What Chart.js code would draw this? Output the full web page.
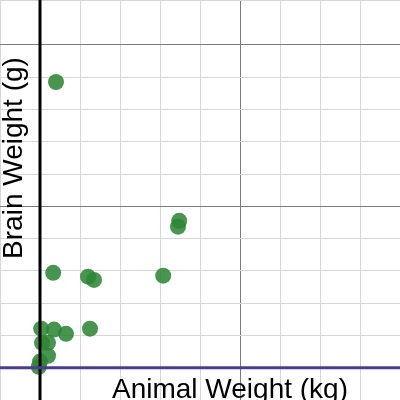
<!DOCTYPE html>
<html>
<head>
<style>html,body{margin:0;padding:0;background:#fff;overflow:hidden}#wrap{position:absolute;left:-8px;top:-8px;width:416px;height:416px}</style>
<script src="https://cdn.jsdelivr.net/npm/chart.js@4"></script>
</head>
<body>
<div id="wrap"><canvas id="c"></canvas></div>
<script>
const animalWeight = [0.4, 3.48, 3.45, 0.33, 1.2, 1.35, 3.08, 0.03, 0.35, 0.65, 1.25, 0.05, 0.2, 0.2, 0.0, -0.03];
const brainWeight = [8.85, 4.55, 4.37, 2.94, 2.82, 2.72, 2.85, 1.21, 1.18, 1.05, 1.21, 0.77, 0.77, 0.37, 0.19, 0.03];
const xTitle = 'Animal Weight (kg)';
const yTitle = 'Brain Weight (g)';

const gridColor = ctx => (ctx.tick && Math.abs(ctx.tick.value % 5) < 1e-6) ? '#7a7a7a' : '#d6d6d6';

const overlay = {
  id: 'overlay',
  afterDraw(chart) {
    const {ctx, scales: {x, y}} = chart;
    ctx.save();
    ctx.lineWidth = 3;
    ctx.strokeStyle = '#000';
    ctx.beginPath(); ctx.moveTo(x.getPixelForValue(0), 0); ctx.lineTo(x.getPixelForValue(0), 416); ctx.stroke();
    ctx.strokeStyle = '#4a3d8f';
    ctx.beginPath(); ctx.moveTo(0, y.getPixelForValue(0)); ctx.lineTo(416, y.getPixelForValue(0)); ctx.stroke();
    ctx.fillStyle = '#000';
    ctx.font = '28px "Liberation Sans", Arial, sans-serif';
    ctx.textAlign = 'center';
    ctx.textBaseline = 'middle';
    ctx.fillText(xTitle, 238, 398);
    ctx.translate(22, 166);
    ctx.rotate(-Math.PI / 2);
    ctx.fillText(yTitle, 0, 0);
    ctx.restore();
  }
};

new Chart(document.getElementById('c'), {
  type: 'scatter',
  data: {
    datasets: [{
      data: animalWeight.map((v, i) => ({x: v, y: brainWeight[i]})),
      backgroundColor: 'rgba(46,134,54,0.88)',
      borderWidth: 0,
      pointRadius: 8,
      pointHoverRadius: 8
    }]
  },
  options: {
    responsive: true,
    maintainAspectRatio: false,
    animation: false,
    layout: {padding: 0},
    plugins: {legend: {display: false}, tooltip: {enabled: false}},
    scales: {
      x: {
        min: -1, max: 9,
        ticks: {display: false, stepSize: 1},
        grid: {color: gridColor, drawTicks: false, lineWidth: 1},
        border: {display: false}
      },
      y: {
        min: -1, max: 11.39,
        ticks: {display: false, stepSize: 1},
        grid: {color: gridColor, drawTicks: false, lineWidth: 1},
        border: {display: false}
      }
    }
  },
  plugins: [overlay]
});
</script>
</body>
</html>
